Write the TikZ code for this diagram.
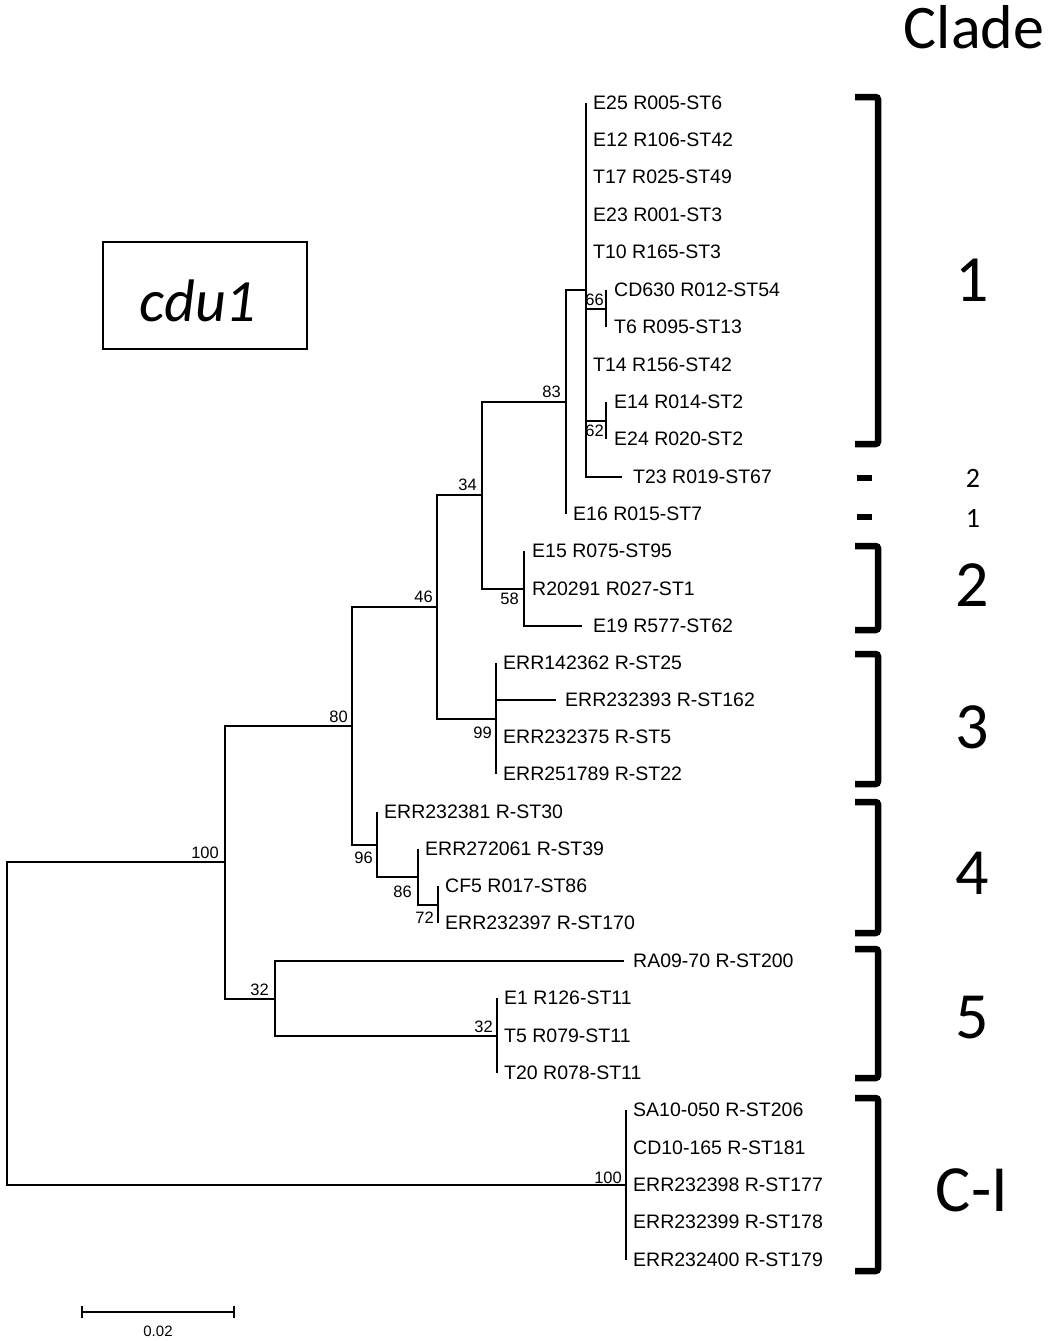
\documentclass[tikz,border=0pt]{standalone}
\usepackage{fontspec}
\setmainfont{Liberation Sans}
\newfontfamily\calfont{Carlito}
\begin{document}
\begin{tikzpicture}[x=1pt,y=-1pt]
\tikzset{
  branch/.style={line width=2pt},
  leaflbl/.style={anchor=west, inner sep=0pt, font=\fontsize{19.5}{20}\selectfont},
  boot/.style={inner sep=0pt, font=\fontsize{16.5}{16.5}\selectfont},
  cladebr/.style={line width=6.5pt, rounded corners=2.5pt},
  bignum/.style={inner sep=0pt, font=\calfont\fontsize{66}{66}\selectfont},
  smallnum/.style={inner sep=0pt, font=\calfont\fontsize{28}{28}\selectfont},
}
\useasboundingbox (0,0) rectangle (1050,1341);
\fill[white] (0,0) rectangle (1050,1341);

% internal nodes
\coordinate (root) at (7,1023.5);
\coordinate (n100) at (225,862);
\coordinate (n80) at (352,726);
\coordinate (n46) at (437,607);
\coordinate (n34) at (482,495);
\coordinate (n83) at (566,402);
\coordinate (nA) at (586,290);
\coordinate (n66) at (606,308.5);
\coordinate (n62) at (606,420.5);
\coordinate (n58) at (524,588.5);
\coordinate (n99) at (496,718.5);
\coordinate (n96) at (377,844.5);
\coordinate (n86) at (418,877);
\coordinate (n72) at (438,904.5);
\coordinate (n32a) at (275,998.5);
\coordinate (n32b) at (497,1035.5);
\coordinate (nCI) at (626,1185);

\foreach \p/\c in {root/n100, root/nCI, n100/n80, n100/n32a, n80/n46, n80/n96,
  n46/n34, n46/n99, n34/n83, n34/n58, n83/nA, nA/n66, nA/n62, n96/n86, n86/n72, n32a/n32b}
  \draw[branch] (\p) |- (\c);

% leaves: name / parent / tip x / label x / y / text
\foreach \n/\p/\tx/\lx/\y/\t in {
  L1/nA/586/593/103/{E25 R005-ST6},
  L2/nA/586/593/140/{E12 R106-ST42},
  L3/nA/586/593/177/{T17 R025-ST49},
  L4/nA/586/593/215/{E23 R001-ST3},
  L5/nA/586/593/252/{T10 R165-ST3},
  L6/n66/606/614/290/{CD630 R012-ST54},
  L7/n66/606/614/327/{T6 R095-ST13},
  L8/nA/586/593/365/{T14 R156-ST42},
  L9/n62/606/614/402/{E14 R014-ST2},
  L10/n62/606/614/439/{E24 R020-ST2},
  L11/nA/622/633/477/{T23 R019-ST67},
  L12/n83/566/573/514/{E16 R015-ST7},
  L13/n58/524/532/551/{E15 R075-ST95},
  L14/n58/524/532/588.5/{R20291 R027-ST1},
  L15/n58/582/593/626/{E19 R577-ST62},
  L16/n99/496/503/663/{ERR142362 R-ST25},
  L17/n99/556/565/700/{ERR232393 R-ST162},
  L18/n99/496/503/737/{ERR232375 R-ST5},
  L19/n99/496/503/774/{ERR251789 R-ST22},
  L20/n96/377/384/812/{ERR232381 R-ST30},
  L21/n86/418/425/849/{ERR272061 R-ST39},
  L22/n72/438/445/886/{CF5 R017-ST86},
  L23/n72/438/445/923/{ERR232397 R-ST170},
  L24/n32a/624/633/961/{RA09-70 R-ST200},
  L25/n32b/497/504/998/{E1 R126-ST11},
  L26/n32b/497/504/1035.5/{T5 R079-ST11},
  L27/n32b/497/504/1073/{T20 R078-ST11},
  L28/nCI/626/633/1110/{SA10-050 R-ST206},
  L29/nCI/626/633/1148/{CD10-165 R-ST181},
  L30/nCI/626/633/1185/{ERR232398 R-ST177},
  L31/nCI/626/633/1222/{ERR232399 R-ST178},
  L32/nCI/626/633/1260/{ERR232400 R-ST179}}
{
  \coordinate (t\n) at (\tx,\y);
  \node[leaflbl] (\n) at (\lx,\y) {\t};
  \draw[branch] (\p) |- (t\n);
}

% bootstrap values
\node[boot, anchor=south east] (b100) at (219,859) {100};
\node[boot, anchor=south east] (b80) at (348,723) {80};
\node[boot, anchor=south east] (b46) at (433,603) {46};
\node[boot, anchor=south east] (b34) at (477,491) {34};
\node[boot, anchor=south east] (b83) at (561,398) {83};
\node[boot, anchor=south east] (b66) at (604,306) {66};
\node[boot, anchor=north east] (b62) at (604,425) {62};
\node[boot, anchor=north east] (b58) at (519,593) {58};
\node[boot, anchor=north east] (b99) at (492,727) {99};
\node[boot, anchor=north east] (b96) at (373,852) {96};
\node[boot, anchor=north east] (b86) at (412,886) {86};
\node[boot, anchor=north east] (b72) at (434,912) {72};
\node[boot, anchor=south east] (b32a) at (269,996) {32};
\node[boot, anchor=south east] (b32b) at (493,1033) {32};
\node[boot, anchor=south east] (b100c) at (622,1184) {100};

% scale bar
\coordinate (sbL) at (82,1312);
\coordinate (sbR) at (234,1312);
\draw[line width=2pt] (sbL) -- (sbR);
\draw[line width=2pt] ([yshift=-6pt]sbL) -- ([yshift=6pt]sbL);
\draw[line width=2pt] ([yshift=-6pt]sbR) -- ([yshift=6pt]sbR);
\node[inner sep=0pt, font=\fontsize{15}{15}\selectfont] (sblbl) at (158,1331) {0.02};

% gene box
\node[draw, line width=2.5pt, minimum width=204pt, minimum height=107pt, inner sep=0pt] (genebox) at (205,295.5) {};
\node[inner sep=0pt, anchor=base, font=\calfont\itshape\fontsize{60}{60}\selectfont] (gene) at (198,321) {cdu1};

% clade header
\node[inner sep=0pt, anchor=base, font=\calfont\fontsize{62}{62}\selectfont] (cladehdr) at (974,48) {Clade};

% brackets
\draw[cladebr] (855,97) -- (878,97) -- (878,444) -- (855,444);
\draw[cladebr] (855,546) -- (878,546) -- (878,630) -- (855,630);
\draw[cladebr] (855,654) -- (878,654) -- (878,784) -- (855,784);
\draw[cladebr] (855,802) -- (878,802) -- (878,933) -- (855,933);
\draw[cladebr] (855,949) -- (878,949) -- (878,1078) -- (855,1078);
\draw[cladebr] (855,1098) -- (878,1098) -- (878,1271) -- (855,1271);
\draw[line width=6pt] (857,478) -- (872,478);
\draw[line width=6pt] (857,517) -- (872,517);

\node[bignum] (c1) at (972,280) {1};
\node[smallnum] (c2s) at (973,478) {2};
\node[smallnum] (c1s) at (973,518) {1};
\node[bignum] (c2) at (972,585) {2};
\node[bignum] (c3) at (972,727) {3};
\node[bignum] (c4) at (972,873) {4};
\node[bignum] (c5) at (972,1018) {5};
\node[bignum] (cCI) at (972,1190) {C-I};
\end{tikzpicture}
\end{document}
